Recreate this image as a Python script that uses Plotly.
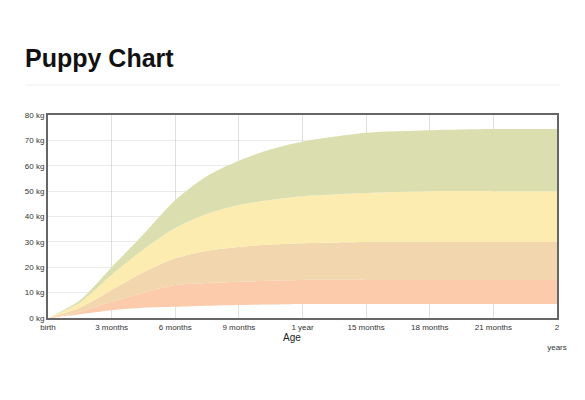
import plotly.graph_objects as go

months = [0, 1.5, 3, 4.5, 6, 7.5, 9, 10.5, 12, 15, 18, 21, 24]
bottom = [0, 1.5, 3.1, 4.0, 4.4, 4.8, 5.1, 5.3, 5.5, 5.5, 5.5, 5.5, 5.5]
small = [0, 2.5, 6.4, 10, 13, 13.8, 14.3, 14.7, 15, 15, 15, 15, 15]
medium = [0, 4, 11, 18, 23.5, 26.5, 28, 29, 29.5, 30, 30, 30, 30]
large = [0, 6, 17, 27, 35.5, 41, 44.5, 46.5, 48, 49.3, 50, 50, 50]
giant = [0, 7, 20, 33, 46.5, 56, 62, 66.5, 69.5, 73, 74, 74.5, 74.5]

tick_vals = [0, 3, 6, 9, 12, 15, 18, 21, 24]
tick_text = ["birth", "3 months", "6 months", "9 months", "1 year", "15 months",
             "18 months", "21 months", "2<br> <br>years"]
y_vals = [0, 10, 20, 30, 40, 50, 60, 70, 80]
y_text = [f"{v} kg" for v in y_vals]

colors = ["rgba(251,203,171,1)", "rgba(241,214,174,1)", "rgba(253,236,175,1)", "rgba(219,223,176,1)"]

W, H = 577, 392
L, R, T, B = 40, 549, 107, 310

fig = go.Figure()
fig.add_trace(go.Scatter(x=months, y=bottom, mode="lines", line=dict(width=0, shape="spline", smoothing=0.8),
                         hoverinfo="skip", showlegend=False))
for ser, col in zip([small, medium, large, giant], colors):
    fig.add_trace(go.Scatter(x=months, y=ser, mode="lines", fill="tonexty", fillcolor=col,
                             line=dict(width=0, shape="spline", smoothing=0.8), hoverinfo="skip", showlegend=False))

ph = B - T
pw = R - L
fig.update_layout(
    width=W, height=H,
    margin=dict(l=L, r=W - R, t=T, b=H - B),
    paper_bgcolor="white", plot_bgcolor="white",
    font=dict(family="Liberation Sans, Arial", size=8, color="#333"),
    xaxis=dict(range=[0, 24], tickvals=tick_vals, ticktext=tick_text, showgrid=True,
               gridcolor="rgba(0,0,0,0.12)", showline=True, linecolor="#666", linewidth=2,
               mirror=True, ticks="", zeroline=False),
    yaxis=dict(range=[0, 80], tickvals=y_vals, ticktext=y_text, showgrid=True,
               gridcolor="rgba(0,0,0,0.08)", showline=True, linecolor="#666", linewidth=2,
               mirror=True, ticks="", zeroline=False, layer="above traces"),
    title=dict(text="<b>Puppy Chart</b>", x=17 / W, xanchor="left", y=1 - 50 / H, yanchor="middle",
               font=dict(family="Liberation Sans Narrow, Liberation Sans, Arial", size=25, color="#111")),
    annotations=[dict(text="Age", xref="paper", yref="paper", x=(284 - L) / pw, y=(B - 337) / ph,
                      showarrow=False, font=dict(size=10, color="#222"))],
    shapes=[
        dict(type="line", xref="paper", yref="paper", x0=(17 - L) / pw, x1=(552 - L) / pw,
             y0=(B - 77) / ph, y1=(B - 77) / ph, line=dict(color="#eee", width=1)),
    ],
)
fig.write_html("out.html")
